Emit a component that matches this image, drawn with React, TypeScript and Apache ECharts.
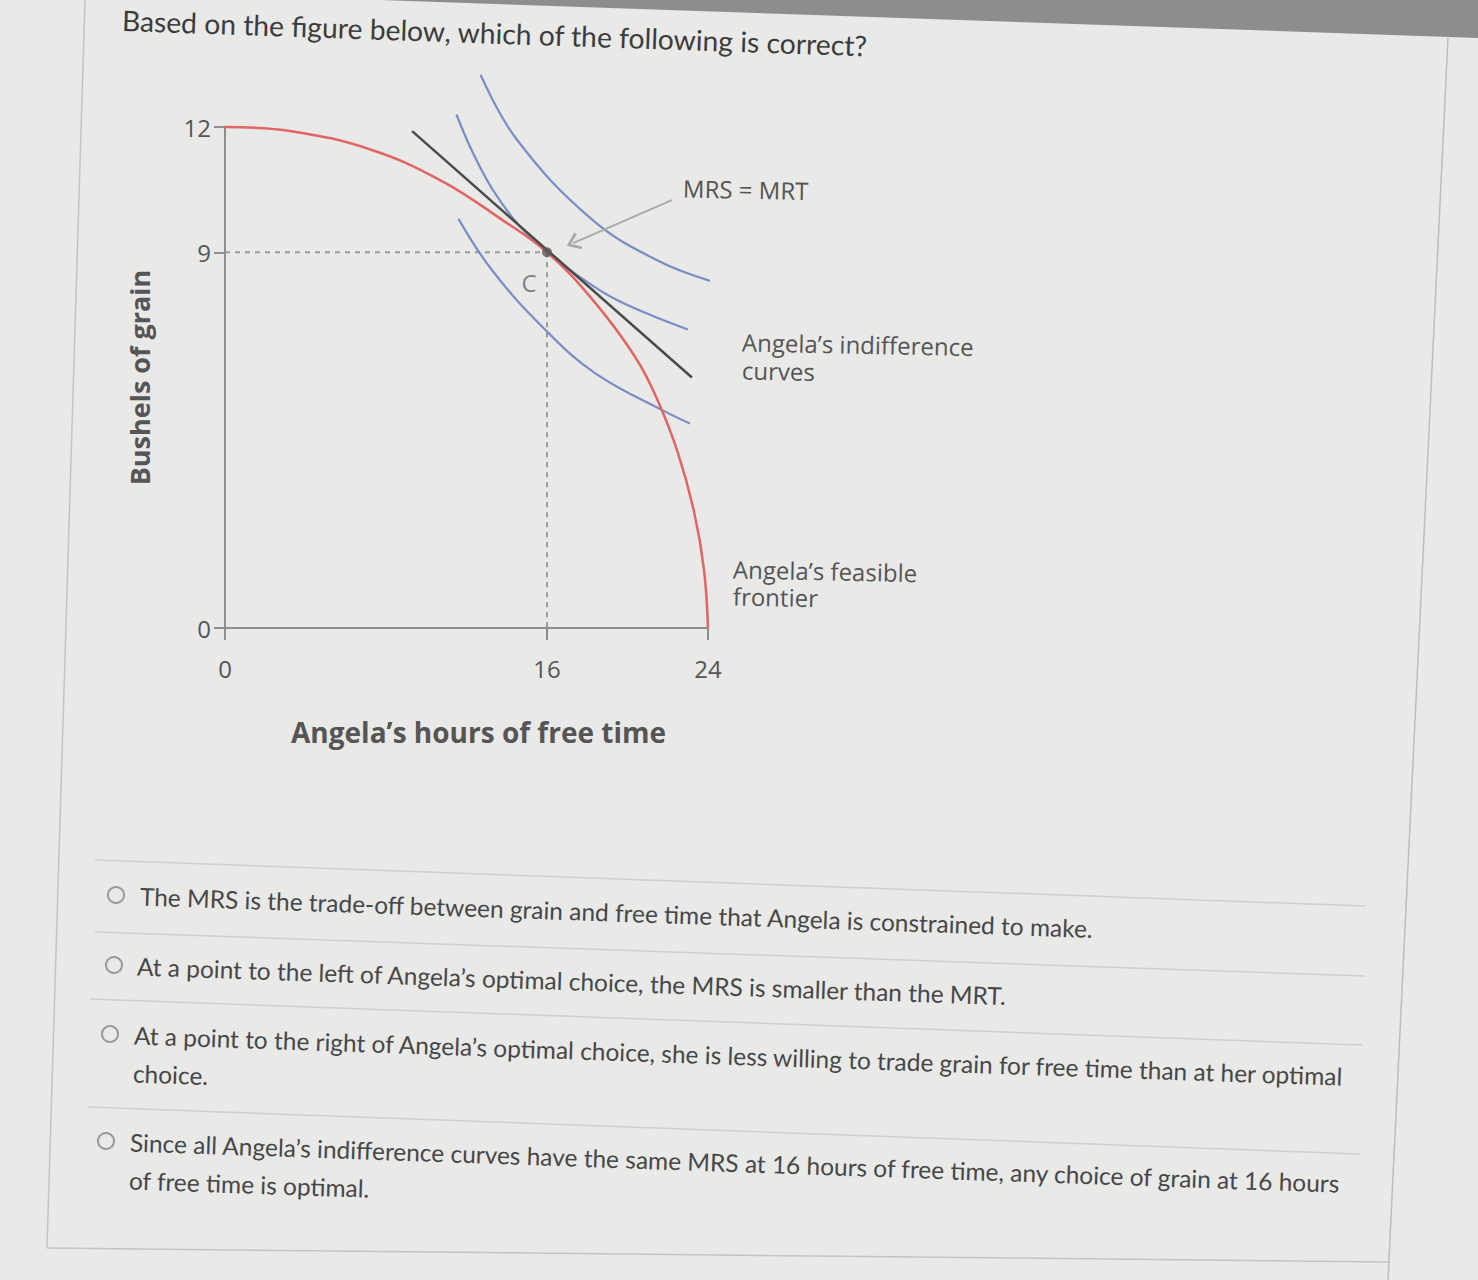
import React, { useEffect, useRef } from "react";
import * as echarts from "echarts";

// ---- data ----
const hourTicks = [0, 16, 24];
const grainTicks = [0, 9, 12];

const frontierHours = [0, 3.3, 7.3, 10.8, 13.7, 16, 18.2, 20.3, 21.5, 22.5, 23.3, 23.8, 24];
const frontierGrain = [12, 11.9, 11.45, 10.7, 9.8, 9, 7.9, 6.55, 5.45, 4.2, 2.8, 1.4, 0];

const icLowHours = [11.6, 13.3, 15.9, 18.4, 21.8, 23.1];
const icLowGrain = [9.8, 8.55, 7.15, 6.1, 5.2, 4.9];

const icMidHours = [11.5, 12.3, 13.3, 14.6, 16, 17.5, 19.5, 23.0];
const icMidGrain = [12.3, 11.4, 10.5, 9.65, 9, 8.45, 7.85, 7.15];

const icHighHours = [12.7, 14.5, 18.2, 21.5, 24.2];
const icHighGrain = [13.25, 11.7, 9.8, 8.8, 8.3];

const mrtHours = [9.3, 23.2];
const mrtGrain = [11.9, 6.0];

const optimalHours = 16;
const optimalGrain = 9;

const arrowFrom = [22.2, 10.25];
const arrowTo = [17.3, 9.22];

const questionText = "Based on the figure below, which of the following is correct?";
const choices = [
  ["The MRS is the trade-off between grain and free time that Angela is constrained to make."],
  ["At a point to the left of Angela’s optimal choice, the MRS is smaller than the MRT."],
  [
    "At a point to the right of Angela’s optimal choice, she is less willing to trade grain for free time than at her optimal",
    "choice.",
  ],
  [
    "Since all Angela’s indifference curves have the same MRS at 16 hours of free time, any choice of grain at 16 hours",
    "of free time is optimal.",
  ],
];

const zip = (xs: number[], ys: number[]) => xs.map((x, i) => [x, ys[i]]);

export default function App() {
  const ref = useRef<HTMLDivElement>(null);

  useEffect(() => {
    if (!ref.current) return;
    const chart = echarts.init(ref.current, null, { renderer: "svg" });

    const axisColor = "#8e8e8e";
    const chartFont = "'Open Sans', 'Noto Sans', sans-serif";
    const textFont = "Lato, 'Open Sans', sans-serif";
    const rot = -0.034;

    const icStyle = { color: "#7a8ec6", width: 2.2 };

    const graphics: any[] = [];
    // dark screen edge top-right
    graphics.push({
      type: "polygon",
      shape: { points: [[380, 0], [1478, 0], [1478, 38]] },
      style: { fill: "#8d8d8d" },
      silent: true,
    });
    // panel borders
    graphics.push({ type: "line", shape: { x1: 85, y1: 0, x2: 47, y2: 1248 }, style: { stroke: "#c4c4c4", lineWidth: 1.5 } });
    graphics.push({ type: "line", shape: { x1: 47, y1: 1248, x2: 1390, y2: 1262 }, style: { stroke: "#c4c4c4", lineWidth: 1.5 } });
    graphics.push({ type: "line", shape: { x1: 1448, y1: 38, x2: 1388, y2: 1280 }, style: { stroke: "#bdbdbd", lineWidth: 1.5 } });

    // question
    graphics.push({
      type: "text",
      x: 122,
      y: 20,
      rotation: rot,
      style: { text: questionText, font: `28.3px ${textFont}`, fill: "#3c3c3c", textVerticalAlign: "middle" },
    });

    // separators
    const seps = [
      [95, 860, 1365, 906],
      [95, 932, 1365, 976],
      [90, 999, 1362, 1045],
      [88, 1107, 1360, 1154],
    ];
    seps.forEach(([x1, y1, x2, y2]) =>
      graphics.push({ type: "line", shape: { x1, y1, x2, y2 }, style: { stroke: "#cfcfcf", lineWidth: 1.5 } })
    );

    // choices
    const choicePos = [
      [116, 895, 140],
      [114, 965, 137],
      [110, 1034, 134],
      [106, 1141, 130],
    ];
    choices.forEach((lines, i) => {
      const [cx, cy, tx] = choicePos[i];
      graphics.push({
        type: "circle",
        shape: { cx, cy, r: 8 },
        style: { fill: "none", stroke: "#9a9a9a", lineWidth: 2 },
      });
      lines.forEach((t, j) => {
        graphics.push({
          type: "text",
          x: tx - j,
          y: cy + 1 + j * 38,
          rotation: rot,
          style: { text: t, font: `24.5px ${textFont}`, fill: "#474747", textVerticalAlign: "middle" },
        });
      });
    });

    // chart annotations
    const ann = (text: string, x: number, y: number) =>
      graphics.push({
        type: "text",
        x,
        y,
        rotation: -0.02,
        style: { text, font: `24px ${chartFont}`, fill: "#555", textVerticalAlign: "middle" },
      });
    ann("MRS = MRT", 683, 188);
    ann("Angela’s indifference", 742, 342);
    ann("curves", 742, 370);
    ann("Angela’s feasible", 733, 569);
    ann("frontier", 733, 596);

    const lineBase = {
      type: "line",
      symbol: "none",
      clip: false,
      silent: true,
    };

    chart.setOption({
      animation: false,
      backgroundColor: "#e9e9e7",
      grid: { left: 225, top: 127, width: 483, height: 501, containLabel: false },
      xAxis: {
        type: "value",
        min: 0,
        max: 24,
        axisLine: { show: true, lineStyle: { color: axisColor, width: 2 } },
        axisTick: { show: true, customValues: hourTicks, length: 12, lineStyle: { color: axisColor, width: 2 } },
        axisLabel: { customValues: hourTicks, fontSize: 24, color: "#555", margin: 28, fontFamily: chartFont },
        splitLine: { show: false },
        name: "Angela’s hours of free time",
        nameLocation: "middle",
        nameGap: 90,
        nameTextStyle: {
          fontSize: 28,
          fontWeight: "bold",
          color: "#555",
          fontFamily: chartFont,
          padding: [0, 0, 0, 24],
        },
      },
      yAxis: {
        type: "value",
        min: 0,
        max: 12,
        axisLine: { show: true, lineStyle: { color: axisColor, width: 2 } },
        axisTick: { show: true, customValues: grainTicks, length: 11, lineStyle: { color: axisColor, width: 2 } },
        axisLabel: { customValues: grainTicks, fontSize: 24, color: "#555", margin: 14, fontFamily: chartFont },
        splitLine: { show: false },
        name: "Bushels of grain",
        nameLocation: "middle",
        nameGap: 72,
        nameTextStyle: { fontSize: 27, fontWeight: "bold", color: "#555", fontFamily: chartFont },
      },
      graphic: { elements: graphics },
      series: [
        {
          ...lineBase,
          name: "guide-h",
          data: [[0, optimalGrain], [optimalHours, optimalGrain]],
          lineStyle: { color: "#9a9a9a", width: 2, type: [5, 5] },
          z: 1,
        },
        {
          ...lineBase,
          name: "guide-v",
          data: [[optimalHours, optimalGrain], [optimalHours, 0]],
          lineStyle: { color: "#9a9a9a", width: 2, type: [5, 5] },
          z: 1,
        },
        { ...lineBase, name: "IC low", smooth: 0.4, data: zip(icLowHours, icLowGrain), lineStyle: icStyle },
        { ...lineBase, name: "IC mid", smooth: 0.4, data: zip(icMidHours, icMidGrain), lineStyle: icStyle },
        { ...lineBase, name: "IC high", smooth: 0.4, data: zip(icHighHours, icHighGrain), lineStyle: icStyle },
        {
          ...lineBase,
          name: "frontier",
          smooth: 0.4,
          data: zip(frontierHours, frontierGrain),
          lineStyle: { color: "#e06565", width: 2.5 },
          z: 3,
        },
        {
          ...lineBase,
          name: "MRT",
          data: zip(mrtHours, mrtGrain),
          lineStyle: { color: "#4a4a4a", width: 2.5 },
          z: 4,
        },
        {
          type: "scatter",
          name: "C",
          data: [[optimalHours, optimalGrain]],
          symbolSize: 10,
          itemStyle: { color: "#5a5a5a" },
          z: 5,
          silent: true,
          label: {
            show: true,
            formatter: "C",
            position: "bottom",
            offset: [-18, 8],
            fontSize: 24,
            color: "#666",
            fontFamily: chartFont,
          },
          markLine: {
            silent: true,
            symbol: ["none", "path://M10,0 L20,13 L17.5,15 L10,5 L2.5,15 L0,13 Z"],
            symbolSize: [18, 14],
            lineStyle: { color: "#a9a9a9", width: 2, type: "solid" },
            label: { show: false },
            data: [[{ coord: arrowFrom }, { coord: arrowTo }]],
          },
        },
      ],
    });

    return () => chart.dispose();
  }, []);

  return <div ref={ref} style={{ position: "fixed", left: 0, top: 0, width: 1478, height: 1280 }} />;
}
